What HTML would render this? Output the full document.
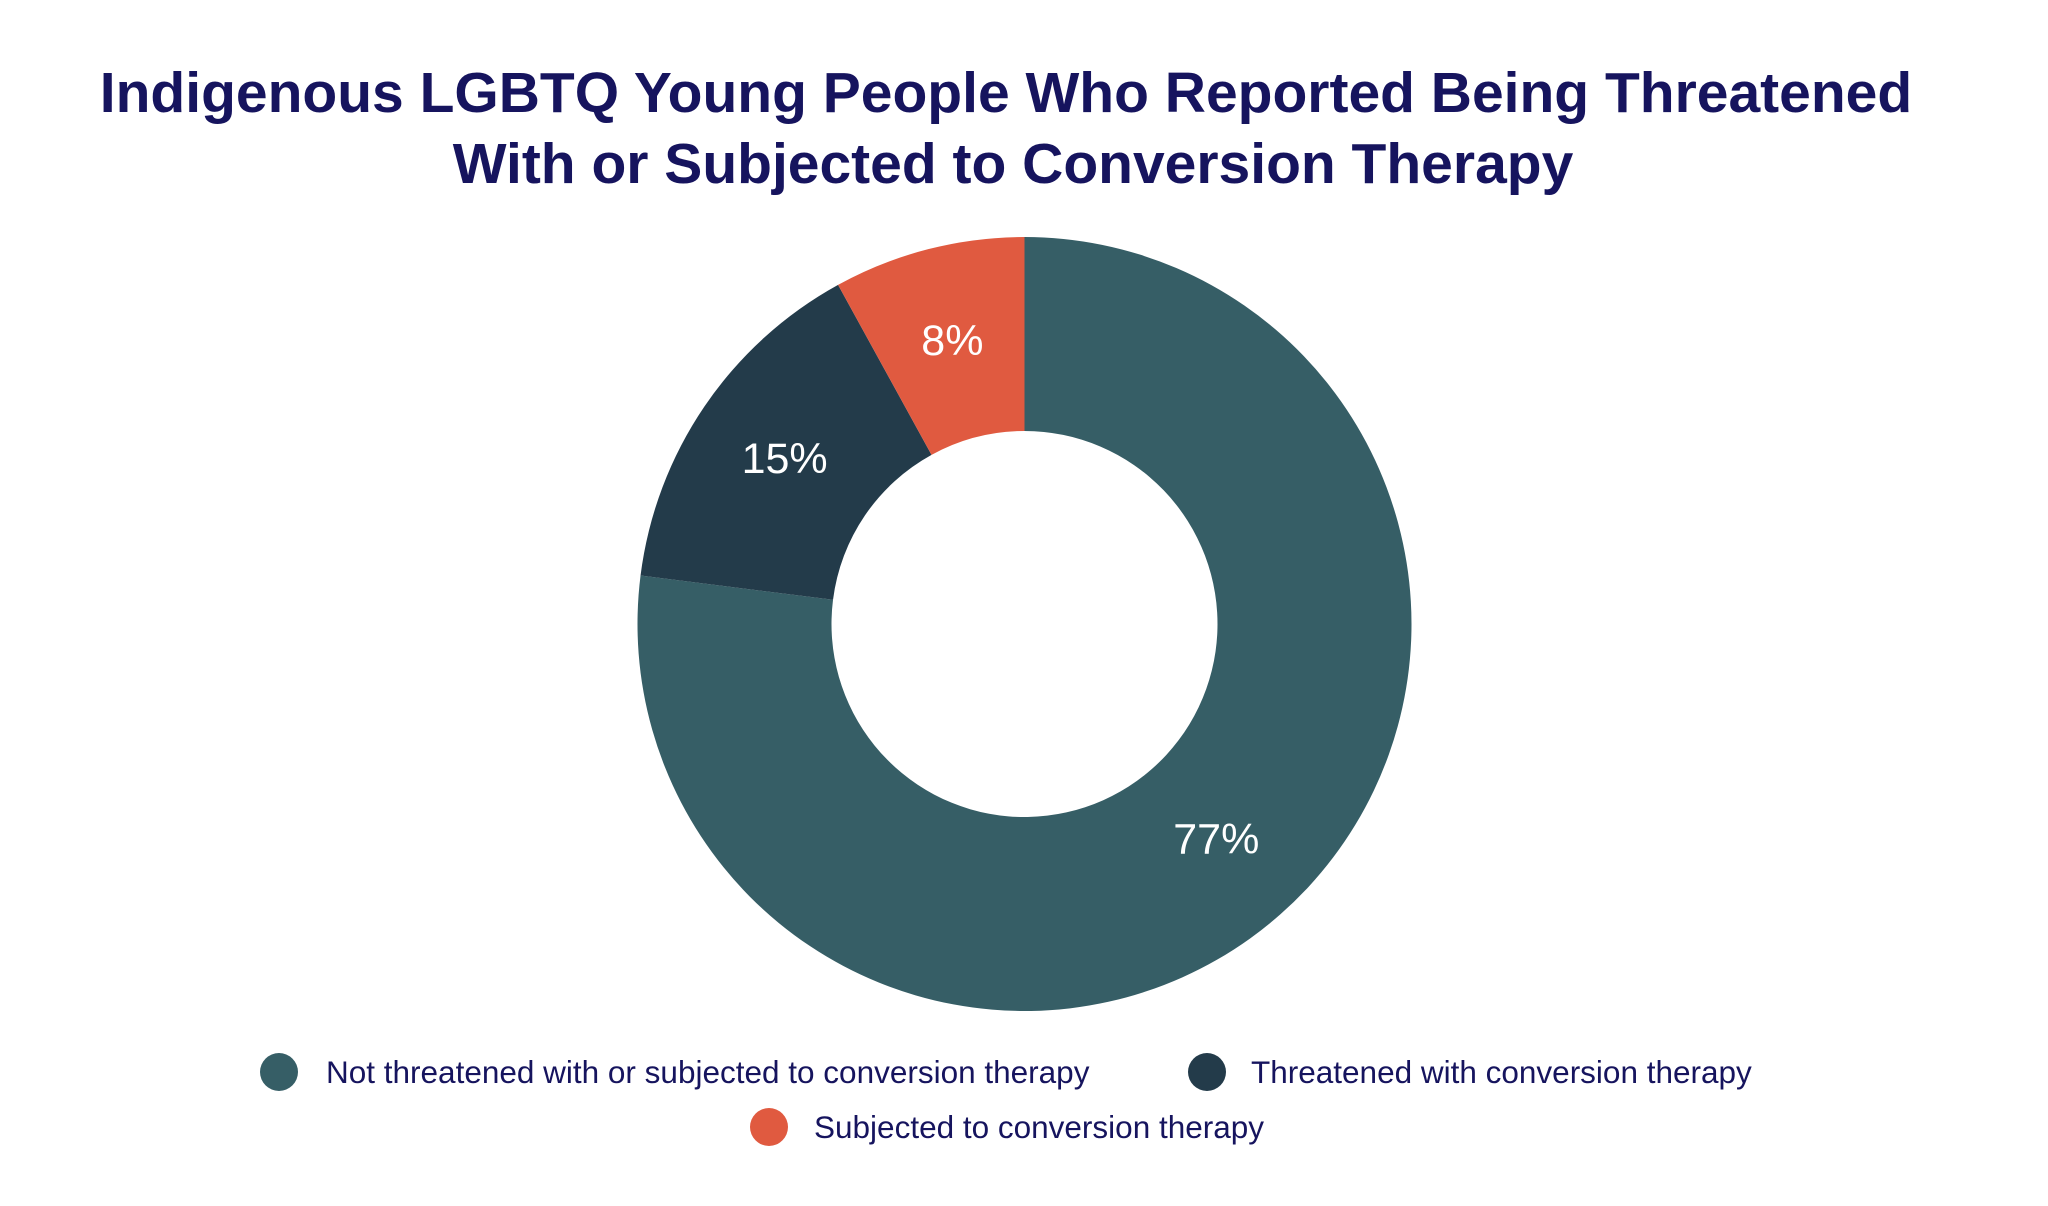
<!DOCTYPE html>
<html><head><meta charset="utf-8"><style>
body{margin:0;background:#fff;}
svg{display:block;font-family:"Liberation Sans",Arial,sans-serif;}
</style></head><body>
<svg width="2048" height="1206" viewBox="0 0 2048 1206">
<text x="1006" y="112" text-anchor="middle" font-size="57" font-weight="bold" fill="#16145e">Indigenous LGBTQ Young People Who Reported Being Threatened</text>
<text x="1013" y="183" text-anchor="middle" font-size="57" font-weight="bold" fill="#16145e">With or Subjected to Conversion Therapy</text>
<g id="slices"></g>
<g id="labels"></g>
<g>
<circle cx="279" cy="1072" r="19" fill="#365e66"/>
<text x="326" y="1083" font-size="31.5" fill="#16145e">Not threatened with or subjected to conversion therapy</text>
<circle cx="1207" cy="1072" r="19" fill="#233b4a"/>
<text x="1251" y="1083" font-size="31.5" fill="#16145e">Threatened with conversion therapy</text>
<circle cx="769" cy="1127" r="19" fill="#e05a40"/>
<text x="814" y="1138" font-size="31.5" fill="#16145e">Subjected to conversion therapy</text>
</g>
</svg>
<script>
const categories = ["Not threatened", "Threatened", "Subjected"];
const values = [77, 15, 8];
const labels = ["77%", "15%", "8%"];
const colors = ["#365e66", "#233b4a", "#e05a40"];
const cx = 1024.5, cy = 624, R = 387, r = 193;
const ns = "http://www.w3.org/2000/svg";
const total = values.reduce((a,b)=>a+b,0);
const gS = document.getElementById("slices"), gL = document.getElementById("labels");
function pt(a, rad){return [cx + rad*Math.sin(a), cy - rad*Math.cos(a)];}
let acc = 0;
values.forEach((v,i)=>{
  const a0 = acc/total*2*Math.PI; acc += v; const a1 = acc/total*2*Math.PI;
  const large = (a1-a0) > Math.PI ? 1 : 0;
  const [x0,y0]=pt(a0,R),[x1,y1]=pt(a1,R),[x2,y2]=pt(a1,r),[x3,y3]=pt(a0,r);
  const p = document.createElementNS(ns,"path");
  p.setAttribute("d",`M${x0},${y0}A${R},${R} 0 ${large} 1 ${x1},${y1}L${x2},${y2}A${r},${r} 0 ${large} 0 ${x3},${y3}Z`);
  p.setAttribute("fill",colors[i]);
  
  
  gS.appendChild(p);
  const am = (a0+a1)/2; const [lx,ly]=pt(am,(R+r)/2);
  const t = document.createElementNS(ns,"text");
  t.setAttribute("x",lx); t.setAttribute("y",ly+12);
  t.setAttribute("text-anchor","middle"); t.setAttribute("font-size","43"); t.setAttribute("fill","#fff");
  t.textContent = labels[i];
  
  
  gL.appendChild(t);
});
</script>
</body></html>
